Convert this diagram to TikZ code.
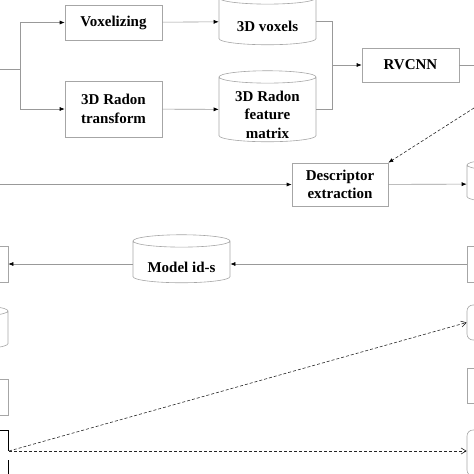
\documentclass[tikz,border=0pt]{standalone}
\usepackage{fontspec}
\setmainfont{Liberation Serif}
\usetikzlibrary{shapes.geometric,arrows.meta}

\begin{document}
\begin{tikzpicture}[x=1pt,y=-1pt,
  txt/.style={align=center, font=\fontsize{15}{18.5}\selectfont\bfseries, inner sep=0pt},
  box/.style={txt, draw=gray!70, line width=0.6pt, minimum width=97pt},
  db/.style={box, shape=cylinder, shape border rotate=90, aspect=0.13, text width=95pt},
  dbtext/.style={label={[txt, yshift=-5pt]center:{#1}}},
  rbox/.style={box, rounded corners=6pt},
  arr/.style={draw=gray!80, line width=0.6pt, -{Latex[length=5pt,width=4pt,black]}},
  darr/.style={draw=gray!30!black, line width=0.6pt, dash pattern=on 3pt off 2pt},
]

\useasboundingbox (0,0) rectangle (474,474);
\clip (0,0) rectangle (474,474);

% Top branch
\node[box, minimum height=35pt] (vox) at (113.5,22.5) {Voxelizing};
\node[box, minimum height=56pt] (radon) at (113.5,109) {3D Radon\\transform};
\node[db, minimum height=53pt, dbtext={3D voxels}] (voxels) at (267.5,21.5) {};
\node[db, minimum height=71pt, dbtext={3D Radon\\feature\\matrix}] (feat) at (267.5,109.5) {};
\node[box, minimum height=34pt] (rvcnn) at (410.5,65) {RVCNN};

\coordinate (in) at (0,69);
\coordinate (split) at (20,69);
\coordinate (join) at (332,65);
\coordinate (out) at (474,65);

\draw[gray!80, line width=0.6pt] (in) -- (split);
\draw[arr] (split) |- (vox.west);
\draw[arr] (split) |- (radon.west);
\draw[arr] (vox) -- (voxels);
\draw[arr] (radon) -- (feat);
\draw[gray!80, line width=0.6pt] (voxels.east) -| (join);
\draw[gray!80, line width=0.6pt] (feat.east) -| (join);
\draw[arr] (join) -- (rvcnn);
\draw[gray!80, line width=0.6pt] (rvcnn) -- (out);

% Descriptor row
\node[box, minimum width=96pt, minimum height=43pt] (desc) at (340,184.5) {Descriptor\\extraction};
\node[db, minimum height=44pt] (rdb) at (515.5,184) {};
\coordinate (din) at (0,184.5);
\coordinate (dtop) at (474,108);

\draw[arr] (din) -- (desc);
\draw[arr] (desc) -- (rdb);
\draw[darr, -{Latex[length=5pt,width=4pt,black]}] (dtop) -- (desc.north east);

% Model id-s row
\node[db, minimum height=48pt, dbtext={Model id-s}] (ids) at (181.5,262) {};
\node[box, minimum height=36pt] (rbox) at (515.5,264) {};
\node[box, minimum height=36pt] (lbox) at (-40.5,264) {};

\draw[arr] (rbox) -- (ids.east |- rbox);
\draw[arr] (ids.west |- lbox) -- (lbox);

% Lower rows
\node[db, minimum height=45pt] (ldb) at (-40.5,330.5) {};
\node[box, minimum height=36pt] (lbox2) at (-40.5,397) {};
\node[rbox, minimum height=35pt] (rr) at (515.5,322.5) {};
\node[box, minimum height=35pt] (rbox2) at (515.5,385.5) {};
\node[rbox, minimum height=46pt] (rr2) at (515.5,453) {};

% Bottom left corner
\draw[black, line width=1pt] (0,430) -- (8,430) -- (8,451);
\draw[black, line width=1pt] (8,460) -- (8,474);
\coordinate (src) at (9,451);

\draw[darr, -{Straight Barb[length=5pt,width=6pt]}] (src) -- (rr.west);
\draw[darr, -{Straight Barb[length=5pt,width=6pt]}] (src) -- (rr2.west |- src);

\end{tikzpicture}
\end{document}
